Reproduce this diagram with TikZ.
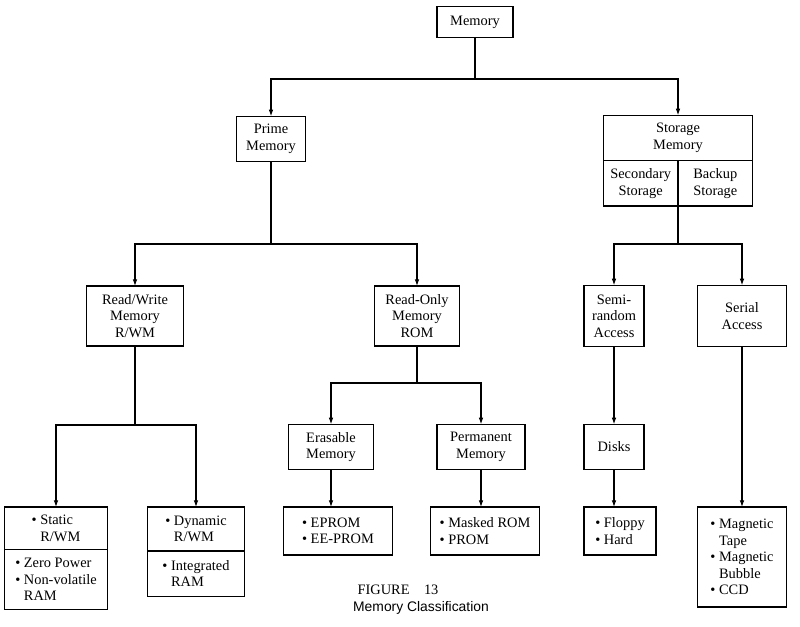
\documentclass[tikz,border=0pt]{standalone}
\usepackage{fontspec}
\setmainfont{Liberation Serif}
\newfontfamily\capfont{Liberation Sans}
\usetikzlibrary{positioning, arrows.meta}

\begin{document}
\begin{tikzpicture}[x=0.75pt, y=-0.75pt, font=\fontsize{10.8}{12.4}\selectfont,
  box/.style={draw, thick, align=center, inner sep=1pt, outer sep=0pt},
  conn/.style={thick, -{Latex[length=5pt,width=3.5pt]}},
  bul/.style={box, align=left}]
\useasboundingbox (0,0) rectangle (800,627);

% top levels
\node [box, minimum width=57pt, minimum height=23pt] (mem) at (475,22) {Memory};
\node [box, minimum width=52pt, minimum height=34pt] (prime) at (271,139) {Prime\\Memory};
\node [box, minimum width=112pt, minimum height=34pt] (stor) at (678,138) {Storage\\Memory};
\node [box, minimum width=56pt, minimum height=34pt, anchor=north east] (sec) at (stor.south) {Secondary\\Storage};
\node [box, minimum width=56pt, minimum height=34pt, anchor=north west] (back) at (stor.south) {Backup\\Storage};
\coordinate (storb) at (stor.south |- sec.south);

% second level
\node [box, minimum width=73pt, minimum height=45pt] (rw) at (135,316) {Read/Write\\Memory\\R/WM};
\node [box, minimum width=64pt, minimum height=45pt] (ro) at (417,316) {Read-Only\\Memory\\ROM};
\node [box, minimum width=45pt, minimum height=46pt] (semi) at (614,316) {Semi-\\random\\Access};
\node [box, minimum width=67pt, minimum height=46pt] (serial) at (742,316) {Serial\\Access};

% third level
\node [box, minimum width=64pt, minimum height=34pt] (eras) at (331,447) {Erasable\\Memory};
\node [box, minimum width=66pt, minimum height=34pt] (perm) at (481,447) {Permanent\\Memory};
\node [box, minimum width=45pt, minimum height=34pt] (disks) at (614,447) {Disks};

% leaves
\node [bul, minimum width=77pt, minimum height=32pt, anchor=north] (stat) at (56,507) {\textbullet\ Static\\\phantom{\textbullet\ }R/WM};
\node [bul, minimum width=77pt, minimum height=45pt, anchor=north] (zero) at (stat.south) {\textbullet\ Zero Power\\\textbullet\ Non-volatile\\\phantom{\textbullet\ }RAM};
\node [bul, minimum width=73pt, minimum height=33pt, anchor=north] (dyn) at (196,507) {\textbullet\ Dynamic\\\phantom{\textbullet\ }R/WM};
\node [bul, minimum width=73pt, minimum height=34pt, anchor=north] (integ) at (dyn.south) {\textbullet\ Integrated\\\phantom{\textbullet\ }RAM};
\node [bul, minimum width=82pt, minimum height=36pt, anchor=north] (eprom) at (338,507) {\textbullet\ EPROM\\\textbullet\ EE-PROM};
\node [bul, minimum width=82pt, minimum height=36pt, anchor=north] (mask) at (485,507) {\textbullet\ Masked ROM\\\textbullet\ PROM};
\node [bul, minimum width=54pt, minimum height=36pt, anchor=north] (flop) at (620,507) {\textbullet\ Floppy\\\textbullet\ Hard};
\node [bul, minimum width=67pt, minimum height=75pt, anchor=north] (magn) at (742,507) {\textbullet\ Magnetic\\\phantom{\textbullet\ }Tape\\\textbullet\ Magnetic\\\phantom{\textbullet\ }Bubble\\\textbullet\ CCD};

% caption
\node (fig) at (398,590) {FIGURE\quad 13};
\node [font=\capfont\fontsize{10.4}{12}\selectfont] (cap) at (421,608) {Memory Classification};

% connectors
\draw [thick] (mem.south) -- (475,79) coordinate (j1);
\draw [conn] (j1) -| (prime.north);
\draw [conn] (j1) -| (stor.north);
\draw [thick] (prime.south) -- (271,244) coordinate (j2);
\draw [conn] (j2) -| (rw.north);
\draw [conn] (j2) -| (ro.north);
\draw [thick] (storb) -- (678,244) coordinate (j3);
\draw [conn] (j3) -| (semi.north);
\draw [conn] (j3) -| (serial.north);
\draw [thick] (rw.south) -- (135,425) coordinate (j4);
\draw [conn] (j4) -| (stat.north);
\draw [conn] (j4) -| (dyn.north);
\draw [thick] (ro.south) -- (417,383) coordinate (j5);
\draw [conn] (j5) -| (eras.north);
\draw [conn] (j5) -| (perm.north);
\draw [conn] (eras.south) -- (eras.south |- eprom.north);
\draw [conn] (perm.south) -- (perm.south |- mask.north);
\draw [conn] (semi.south) -- (disks.north);
\draw [conn] (disks.south) -- (disks.south |- flop.north);
\draw [conn] (serial.south) -- (magn.north);
\end{tikzpicture}
\end{document}
